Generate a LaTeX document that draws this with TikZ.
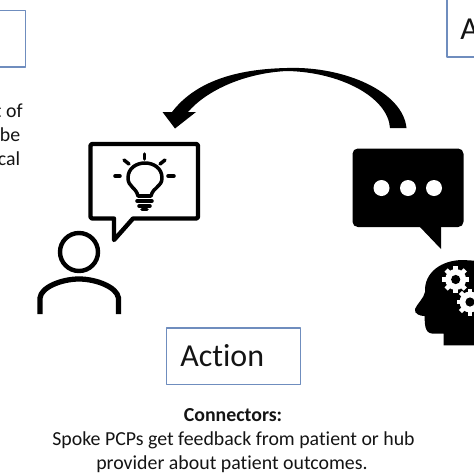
\documentclass[tikz,border=0pt]{standalone}
\usepackage{fontspec}
\setmainfont[Ligatures=NoCommon]{Carlito}
\usetikzlibrary{positioning}
\definecolor{ink}{HTML}{000000}
\definecolor{wbox}{HTML}{6F8DBE}
\definecolor{wtext}{HTML}{141414}
\tikzset{el/.style={line cap=round, line join=round},
  actbox/.style={draw=wbox, line width=0.65pt, fill=white},
  bodytext/.style={text=wtext, font=\fontsize{11.3}{13.6}\selectfont, inner sep=0pt},
  boxtext/.style={text=wtext, font=\fontsize{18.2}{20}\selectfont, inner sep=0pt}}
\begin{document}
\begin{tikzpicture}[el, x=0.02cm, y=-0.02cm]
  \useasboundingbox (0,0) rectangle (474,474);
  \clip (0,0) rectangle (474,474);
  % boxes
  \draw[actbox] (-20,10.5) rectangle (25.5,67);
  \draw[actbox] (447,-10) rectangle (490,57);
  \draw[actbox] (166.5,328) rectangle (300.5,384.5);
  \node[boxtext, anchor=base west] (actionright) at (460,39) {A};
  \node[boxtext, anchor=base west] (actionmid) at (180,366) {Action};
  % cut off text
  \node[bodytext, anchor=base east] (lineone) at (23,117) {t of};
  \node[bodytext, anchor=base east] (linetwo) at (20.5,141) {be};
  \node[bodytext, anchor=base east] (linethree) at (20.5,165) {cal};
  % bottom text
  \node[bodytext, anchor=base] (connectors) at (233,421) {\textbf{Connectors:}};
  \node[bodytext, anchor=base] (feedback) at (233.5,445) {Spoke PCPs get feedback from patient or hub};
  \node[bodytext, anchor=base] (outcomes) at (232,469) {provider about patient outcomes.};
  % curved arrow
  \fill[ink] (406.5,128) .. controls (403,92) and (345,66) .. (287,68)
     .. controls (235,69) and (195,82) .. (172,112) -- (162.5,112) -- (175,128.5) -- (196,112) -- (188,112)
     .. controls (207,90) and (245,73) .. (287,71)
     .. controls (340,72) and (388,97) .. (390,128) -- cycle;
  % left bubble with bulb
  \draw[ink, line width=2.5pt] (92,144) -- (196.5,144) -- ++(1.5,1.5) -- (198,217) -- ++(-1.5,1.5) -- (133,218.5) -- (114,240) -- (114,218.5) -- (92,218.5) -- ++(-1.5,-1.5) -- (90.5,145.5) -- cycle;
  \draw[ink, line width=2pt] (138,196) .. controls (136,187) and (128,187) .. (128,178)
     .. controls (128,158) and (162,158) .. (162,178)
     .. controls (162,187) and (153,187) .. (151,196) -- cycle;
  \foreach \xa/\ya/\xb/\yb in {144.5/154/144.5/159, 124/160/129/164, 165/160/160/164, 115/176/120/176, 168/176/174/176, 137/201/152/201, 139/206/150/206, 142/209.5/147/209.5}
     \draw[ink, line width=2pt] (\xa,\ya) -- (\xb,\yb);
  % person
  \draw[ink, line width=2.5pt] (79,252) circle (19);
  \draw[ink, line width=3pt, line cap=butt] (40,314) -- (40,298) .. controls (41,287) and (62,279) .. (79,279) .. controls (96,279) and (117,287) .. (118.5,298) -- (118.5,314);
  % right bubble
  \fill[ink, rounded corners=3pt] (352.5,148.5) rectangle (463.5,227);
  \fill[ink] (419,226) -- (441,249) -- (441,226) -- cycle;
  \foreach \px in {381.5,408,434}
     \fill[white] (\px,188) circle (8);
  % head
  \fill[ink] (443.7,345.3) -- (443.7,333.5) -- (432,333.5) .. controls (424,333) and (425,322) .. (424.5,316)
     .. controls (420,316) and (414,314) .. (415,309) .. controls (417,304) and (424,298) .. (425,292)
     .. controls (424,272) and (442,260) .. (463,260) -- (480,261) -- (480,345.3) -- cycle;
  % gears
  \foreach \gx/\gy in {455.7/279.5, 470/302}{
     \fill[white] (\gx,\gy) circle (10.5);
     \foreach \ang in {0,45,...,315}
        \draw[white, line width=2.6pt, line cap=butt] (\gx,\gy) -- ++(\ang:13.5);
     \fill[ink] (\gx,\gy) circle (4.6);}
\end{tikzpicture}
\end{document}
